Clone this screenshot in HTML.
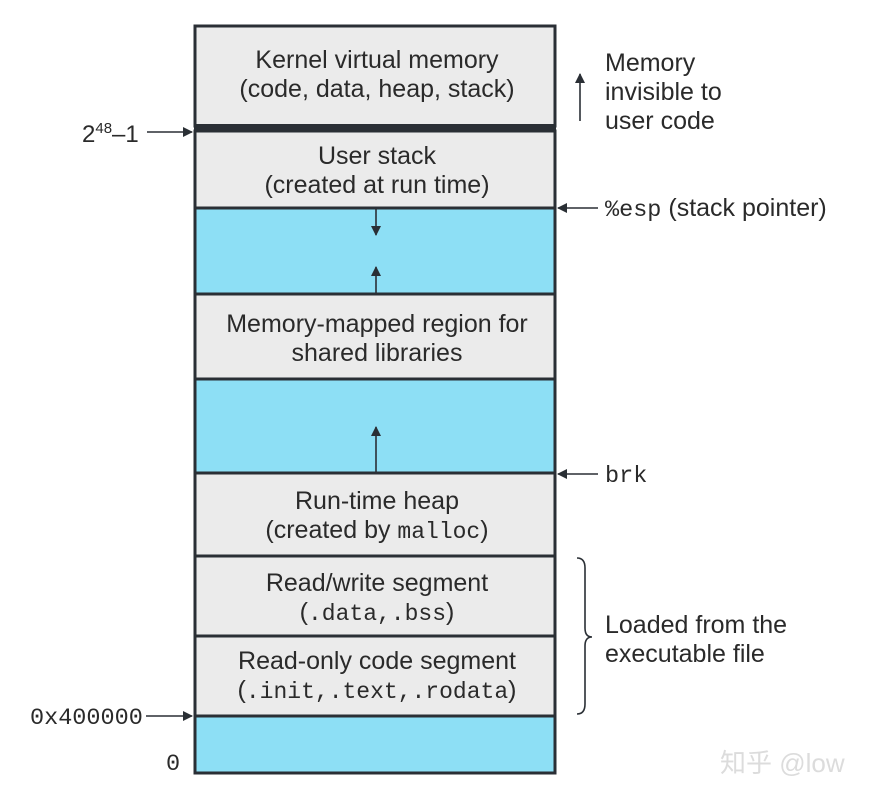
<!DOCTYPE html>
<html><head><style>html,body{margin:0;padding:0;background:#fff;}svg{display:block}</style></head>
<body>
<svg width="872" height="797" viewBox="0 0 872 797" xmlns="http://www.w3.org/2000/svg">
<defs>
<marker id="ah" markerWidth="10" markerHeight="10" refX="9" refY="5" orient="auto" markerUnits="userSpaceOnUse">
<path d="M0,0 L10,5 L0,10 z" fill="#2a2f35"/></marker>
</defs>
<g stroke="#2a2f35" stroke-width="3">
<rect x="195" y="26" width="360" height="100" fill="#ebebeb"/>
<rect x="195" y="131" width="360" height="77" fill="#ebebeb"/>
<rect x="195" y="208" width="360" height="86" fill="#8ddff5"/>
<rect x="195" y="294" width="360" height="85" fill="#ebebeb"/>
<rect x="195" y="379" width="360" height="94" fill="#8ddff5"/>
<rect x="195" y="473" width="360" height="83" fill="#ebebeb"/>
<rect x="195" y="556" width="360" height="80" fill="#ebebeb"/>
<rect x="195" y="636" width="360" height="80" fill="#ebebeb"/>
<rect x="195" y="716" width="360" height="57" fill="#8ddff5"/>
</g>
<rect x="194" y="124" width="362" height="8" fill="#2a2f35"/>
<g stroke="#2a2f35" stroke-width="1.6" fill="none">
<line x1="376" y1="209" x2="376" y2="235" marker-end="url(#ah)"/>
<line x1="376" y1="293" x2="376" y2="267" marker-end="url(#ah)"/>
<line x1="376" y1="472" x2="376" y2="427" marker-end="url(#ah)"/>
<line x1="147" y1="132" x2="192" y2="132" marker-end="url(#ah)"/>
<line x1="146" y1="716" x2="192" y2="716" marker-end="url(#ah)"/>
<line x1="598" y1="208" x2="558" y2="208" marker-end="url(#ah)"/>
<line x1="598" y1="474" x2="558" y2="474" marker-end="url(#ah)"/>
<line x1="580" y1="121" x2="580" y2="74" marker-end="url(#ah)"/>
<path d="M577,558 Q585,558 585,568 L585,628 Q585,637 592,637 Q585,637 585,646 L585,704 Q585,714 577,714"/>
</g>
<g font-family="Liberation Sans, sans-serif" font-size="25" fill="#2a2a2a" text-anchor="middle">
<text x="377" y="68">Kernel virtual memory</text>
<text x="377" y="97">(code, data, heap, stack)</text>
<text x="377" y="164">User stack</text>
<text x="377" y="193">(created at run time)</text>
<text x="377" y="332">Memory-mapped region for</text>
<text x="377" y="361">shared libraries</text>
<text x="377" y="509">Run-time heap</text>
<text x="377" y="538">(created by <tspan font-family="Liberation Mono, monospace" font-size="23">malloc</tspan>)</text>
<text x="377" y="591">Read/write segment</text>
<text x="377" y="620">(<tspan font-family="Liberation Mono, monospace" font-size="23">.data,.bss</tspan>)</text>
<text x="377" y="669">Read-only code segment</text>
<text x="377" y="698">(<tspan font-family="Liberation Mono, monospace" font-size="23">.init,.text,.rodata</tspan>)</text>
</g>
<g font-family="Liberation Sans, sans-serif" font-size="25" fill="#2a2a2a">
<text x="605" y="71">Memory</text>
<text x="605" y="100">invisible to</text>
<text x="605" y="129">user code</text>
<text x="605" y="216"><tspan font-family="Liberation Mono, monospace" font-size="23.5">%esp</tspan> (stack pointer)</text>
<text x="605" y="482" font-family="Liberation Mono, monospace" font-size="23.5">brk</text>
<text x="605" y="633">Loaded from the</text>
<text x="605" y="662">executable file</text>
<text x="82" y="142" font-size="24">2<tspan font-size="15" dy="-9">48</tspan><tspan dy="9">–1</tspan></text>
<text x="30" y="724" font-family="Liberation Mono, monospace" font-size="23.5">0x400000</text>
<text x="166" y="770" font-family="Liberation Mono, monospace" font-size="23.5">0</text>
</g>
<text x="720" y="772" font-family="Liberation Sans, Noto Sans CJK SC, sans-serif" font-size="26" fill="#dcdcdc">知乎 @low</text>
</svg>
</body></html>
